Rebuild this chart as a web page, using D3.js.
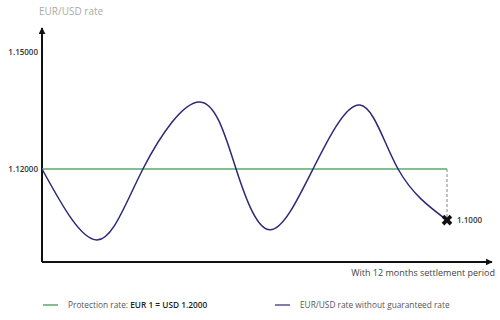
<!doctype html>
<html>
<head>
<meta charset="utf-8" />
<title>EUR/USD rate</title>
<script src="https://cdn.jsdelivr.net/npm/d3@7"></script>
<style>
  body { margin: 0; background: #fff; }
  svg text { font-family: "Open Sans", sans-serif; }
</style>
</head>
<body>
<svg id="chart" width="500" height="320"></svg>
<script>
// months along the settlement period, and the rate at each point
var months = [0, 1.63, 2.99, 4.68, 5.75, 6.76, 8.03, 9.42, 10.55, 12];
var rates = [1.12, 1.1018, 1.12, 1.1372, 1.12, 1.1044, 1.12, 1.1364, 1.12, 1.1069];
var protectionRate = 1.12;
var endRate = 1.1069;
var endLabel = "1.1000";
var tickValues = [1.12, 1.15];
var tickLabels = ["1.12000", "1.15000"];

var svg = d3.select('#chart');
var left = 42, right = 447, axisEnd = 492, bottom = 262, axisTop = 28;

var x = d3.scaleLinear().domain([0, 12]).range([left, right]);
var y = d3.scaleLinear().domain([1.12, 1.15]).range([169, 52]);

// arrow heads
var defs = svg.append('defs');
defs.append('marker')
    .attr('id', 'arrow')
    .attr('viewBox', '0 0 10 10')
    .attr('refX', 9).attr('refY', 5)
    .attr('markerWidth', 7).attr('markerHeight', 7)
    .attr('markerUnits', 'userSpaceOnUse')
    .attr('orient', 'auto')
  .append('path')
    .attr('d', 'M0,0 L10,5 L0,10 Z')
    .attr('fill', '#111');

// axes
svg.append('line')
    .attr('x1', left).attr('y1', bottom)
    .attr('x2', left).attr('y2', axisTop)
    .attr('stroke', '#111').attr('stroke-width', 2)
    .attr('marker-end', 'url(#arrow)');
svg.append('line')
    .attr('x1', left).attr('y1', bottom)
    .attr('x2', axisEnd).attr('y2', bottom)
    .attr('stroke', '#111').attr('stroke-width', 2)
    .attr('marker-end', 'url(#arrow)');

// y tick labels
svg.selectAll('text.tick')
    .data(tickValues)
    .enter().append('text')
    .attr('class', 'tick')
    .attr('x', left - 4)
    .attr('y', function(d) { return y(d); })
    .attr('dy', '0.35em')
    .attr('text-anchor', 'end')
    .attr('font-size', 8)
    .attr('font-weight', 600)
    .attr('fill', '#333')
    .text(function(d, i) { return tickLabels[i]; });

svg.append('text')
    .attr('x', 39).attr('y', 15)
    .attr('font-size', 10)
    .attr('fill', '#aaa')
    .text('EUR/USD rate');

svg.append('text')
    .attr('x', 495).attr('y', 276)
    .attr('text-anchor', 'end')
    .attr('font-size', 9)
    .attr('fill', '#444')
    .text('With 12 months settlement period');

// protection line
svg.append('line')
    .attr('x1', x(0)).attr('x2', x(12))
    .attr('y1', y(protectionRate)).attr('y2', y(protectionRate))
    .attr('stroke', '#5aaa6a').attr('stroke-width', 1.6);

svg.append('line')
    .attr('x1', x(12)).attr('x2', x(12))
    .attr('y1', y(protectionRate)).attr('y2', y(endRate))
    .attr('stroke', '#999').attr('stroke-width', 1.2)
    .attr('stroke-dasharray', '3,2');

// rate curve
var data = months.map(function(m, i) { return { m: m, r: rates[i] }; });
var line = d3.line()
    .x(function(d) { return x(d.m); })
    .y(function(d) { return y(d.r); })
    .curve(d3.curveNatural);

svg.append('path')
    .datum(data)
    .attr('d', line)
    .attr('fill', 'none')
    .attr('stroke', '#2d2878')
    .attr('stroke-width', 1.5);

// end marker
svg.append('path')
    .attr('d', d3.symbol().type(d3.symbolCross).size(70)())
    .attr('transform', 'translate(' + x(12) + ',' + y(endRate) + ') rotate(45)')
    .attr('fill', '#111');
svg.append('text')
    .attr('x', x(12) + 10).attr('y', y(endRate))
    .attr('dy', '0.35em')
    .attr('font-size', 8)
    .attr('font-weight', 600)
    .attr('fill', '#333')
    .text(endLabel);

// legend
var lg = svg.append('g').attr('transform', 'translate(0,305)');
lg.append('line').attr('x1', 43).attr('x2', 58).attr('y1', 0).attr('y2', 0)
    .attr('stroke', '#5aaa6a').attr('stroke-width', 1.5);
var t1 = lg.append('text').attr('x', 68).attr('dy', '0.35em')
    .attr('font-size', 8.3).attr('fill', '#555');
t1.append('tspan').text('Protection rate: ');
t1.append('tspan').attr('font-weight', 600).attr('fill', '#222').text('EUR 1 = USD 1.2000');
lg.append('line').attr('x1', 275).attr('x2', 290).attr('y1', 0).attr('y2', 0)
    .attr('stroke', '#5a4e96').attr('stroke-width', 1.5);
lg.append('text').attr('x', 300).attr('dy', '0.35em')
    .attr('font-size', 8.3).attr('fill', '#555')
    .text('EUR/USD rate without guaranteed rate');
</script>
</body>
</html>
